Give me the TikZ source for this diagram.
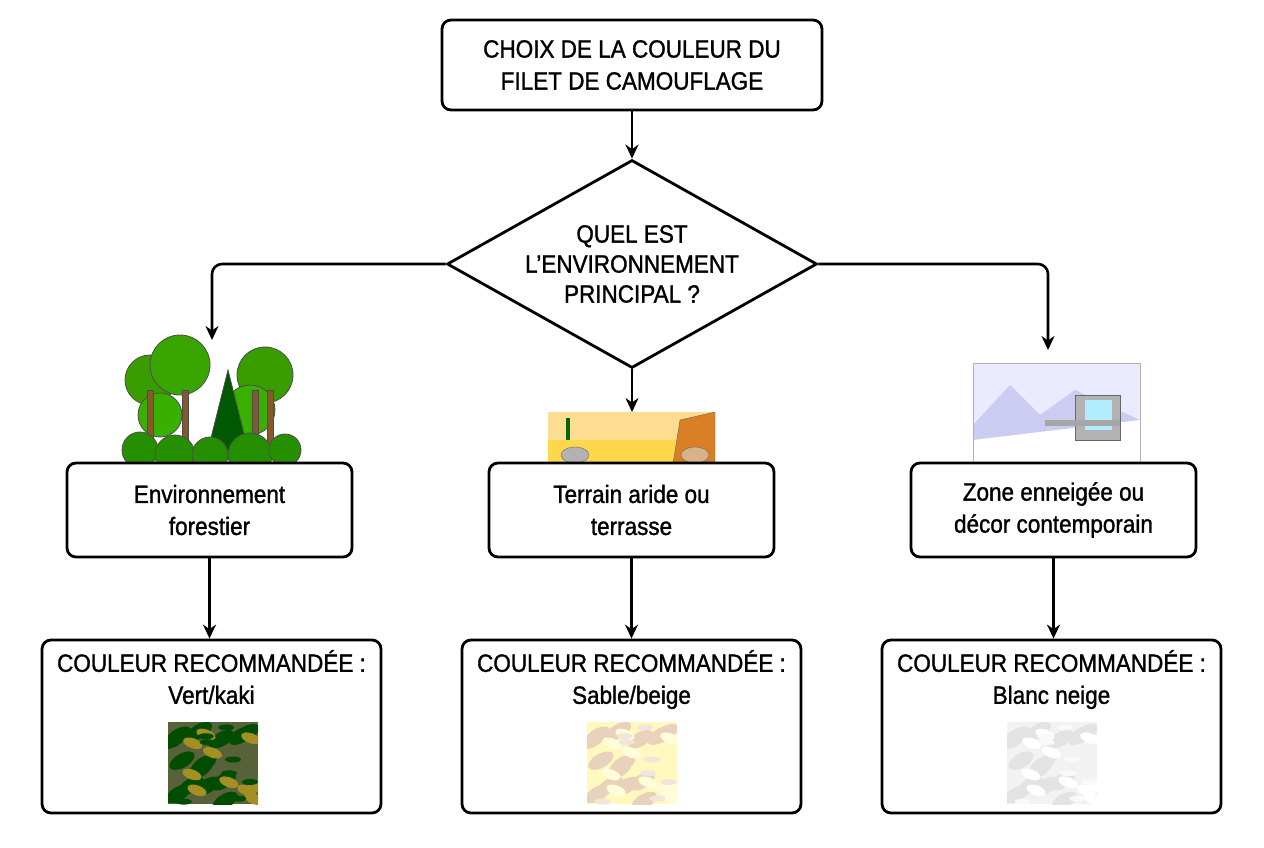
\documentclass[tikz,border=0pt]{standalone}
\usepackage{fontspec}
\setmainfont{Liberation Sans}[FakeStretch=0.9,FakeBold=1.2]
\usetikzlibrary{shapes.geometric,arrows.meta}
\begin{document}
\begin{tikzpicture}[x=1pt,y=-1pt,
 box/.style={draw,fill=white,line width=2.8pt,rounded corners=9pt,align=center,font=\fontsize{25}{32}\selectfont},
 arr/.style={line width=2.6pt,-{Stealth[length=14pt,width=13pt]},rounded corners=10pt}]
\useasboundingbox (0,0) rectangle (1264,848);
\fill[white] (0,0) rectangle (1264,848);
\node[box,minimum width=380pt,minimum height=90pt] (top) at (632,65) {CHOIX DE LA COULEUR DU\\FILET DE CAMOUFLAGE};
\node[draw,line width=2.8pt,diamond,aspect=1.78,minimum width=370pt,minimum height=208pt,inner sep=0pt,align=center,font=\fontsize{25}{30}\selectfont] (q) at (632,264) {QUEL EST\\L'ENVIRONNEMENT\\PRINCIPAL ?};
% images
\begin{scope}[draw=black!70,line width=0.8pt]
 \foreach \x/\y/\r/\c in {150/380/25/green!45!black,180/365/30/green!50!black,265/375/28/green!45!black,250/410/25/green!55!black,160/415/22/green!55!black}{
  \filldraw[fill=\c!70!lime] (\x,\y) circle (\r);}
 \foreach \x in {150,185,255,270}{\filldraw[fill=brown!70!black] (\x-3,390) rectangle (\x+3,455);}
 \filldraw[fill=green!35!black] (228,370) -- (208,450) -- (248,450) -- cycle;
 \foreach \x/\y/\r in {140/450/18,175/455/20,210/455/18,250/455/22,285/450/16}{\filldraw[fill=green!45!black!80!lime] (\x,\y) circle (\r);}
\end{scope}
\begin{scope}
 \clip (548,412) rectangle (715,485);
 \fill[yellow!40!orange!40] (548,412) rectangle (715,485);
 \fill[orange!45!yellow!70] (548,440) rectangle (715,485);
 \filldraw[fill=brown!60!orange,draw=black!60] (680,420) -- (715,412) -- (715,470) -- (672,470) -- cycle;
 \filldraw[fill=gray!60,draw=black!60] (575,455) ellipse (14 and 8);
 \filldraw[fill=brown!60,draw=black!60] (695,455) ellipse (14 and 8);
 \fill[green!40!black] (566,418) rectangle (570,440);
\end{scope}
\begin{scope}
 \clip (973,363) rectangle (1140,470);
 \fill[blue!8] (973,363) rectangle (1140,470);
 \fill[gray!40!blue!25] (973,425) -- (1010,385) -- (1040,415) -- (1075,390) -- (1140,420) -- (1140,470) -- (973,470) -- cycle;
 \fill[white] (973,440) -- (1140,420) -- (1140,470) -- (973,470) -- cycle;
 \filldraw[fill=gray!60,draw=black!60] (1075,395) rectangle (1120,440);
 \fill[blue!25!cyan!30] (1085,400) rectangle (1112,430);
 \fill[gray!70] (1045,420) rectangle (1120,426);
\end{scope}
\draw[black!30] (973,363) rectangle (1140,470);
\node[box,minimum width=285pt,minimum height=94pt] (a) at (209.5,510) {Environnement\\forestier};
\node[box,minimum width=285pt,minimum height=94pt] (b) at (631.5,510) {Terrain aride ou\\terrasse};
\node[box,minimum width=285pt,minimum height=94pt] (c) at (1053.5,510) {Zone enneigée ou\\décor contemporain};
\node[box,minimum width=339pt,minimum height=173pt] (a2) at (211.5,726.5) {};
\node[box,minimum width=339pt,minimum height=173pt] (b2) at (631.5,726.5) {};
\node[box,minimum width=339pt,minimum height=173pt] (c2) at (1051.5,726.5) {};
\foreach \n/\t in {a2/Vert\slash kaki,b2/Sable\slash beige,c2/Blanc neige}{
 \node[align=center,font=\fontsize{25}{32}\selectfont,anchor=north] (\n t) at ([yshift=-8pt]\n.north) {COULEUR RECOMMANDÉE :\\\t};}
% swatches
\foreach \cx/\ca/\cb/\cc/\cd in {213/olive!60!green!50!black/green!30!black/olive!60!brown/black!70!green,632/orange!20!yellow!25/brown!35!white/yellow!15!white/brown!20,1052/gray!10/gray!22/white/gray!5}{
 \begin{scope}
  \clip (\cx-45,722) rectangle (\cx+45,804);
  \fill[\ca] (\cx-45,722) rectangle (\cx+45,804);
  \pgfmathsetseed{7}
  \foreach \i in {1,...,14}{
   \pgfmathsetmacro\px{\cx-45+rnd*90}\pgfmathsetmacro\py{722+rnd*82}
   \fill[\cb,rotate around={30:(\px,\py)}] (\px,\py) ellipse (14 and 7);}
  \foreach \i in {1,...,10}{
   \pgfmathsetmacro\px{\cx-45+rnd*90}\pgfmathsetmacro\py{722+rnd*82}
   \fill[\cc,rotate around={-20:(\px,\py)}] (\px,\py) ellipse (10 and 5);}
  \foreach \i in {1,...,8}{
   \pgfmathsetmacro\px{\cx-45+rnd*90}\pgfmathsetmacro\py{722+rnd*82}
   \fill[\cd] (\px,\py) ellipse (8 and 3);}
 \end{scope}}
\coordinate (la) at (212,340);
\coordinate (rc) at (1048,350);
\coordinate (mb) at (632,412);
\draw[arr] (top) -- (q.north);
\draw[arr] (q.west) -| (la);
\draw[arr] (q.east) -| (rc);
\draw[arr] (q.south) -- (mb);
\draw[arr] (a.south) -- (a.south |- a2.north);
\draw[arr] (b.south) -- (b.south |- b2.north);
\draw[arr] (c.south) -- (c.south |- c2.north);
\end{tikzpicture}
\end{document}
